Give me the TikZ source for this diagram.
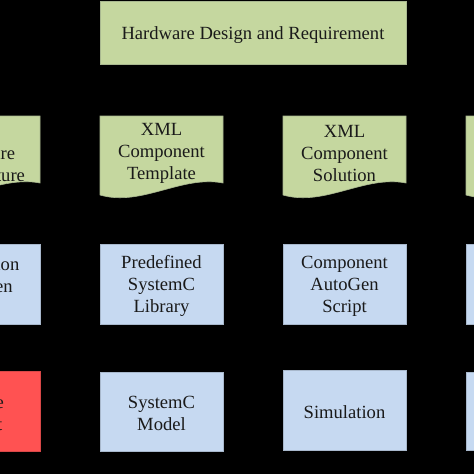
\documentclass[tikz,border=0pt]{standalone}
\usepackage{fontspec}
\setmainfont{Liberation Serif}
\definecolor{boxgreen}{HTML}{C5D79F}
\definecolor{edgegreen}{HTML}{A9B890}
\definecolor{boxblue}{HTML}{C6D9F1}
\definecolor{edgeblue}{HTML}{A8B8CC}
\definecolor{boxred}{HTML}{FF5252}
\definecolor{edgered}{HTML}{D84848}
\definecolor{ink}{HTML}{1A1A1A}
\begin{document}
\begin{tikzpicture}[x=1pt,y=-1pt,
  txt/.style={font=\fontsize{18.6}{22}\selectfont, text=ink, align=center, inner sep=0pt},
  boxbase/.style={line width=0.6pt, minimum width=123pt, minimum height=80pt, inner sep=0pt},
  greenbox/.style={boxbase, fill=boxgreen, draw=edgegreen},
  bluebox/.style={boxbase, fill=boxblue, draw=edgeblue},
  redbox/.style={boxbase, fill=boxred, draw=edgered},
  docpath/.style={fill=boxgreen, draw=edgegreen, line width=0.6pt},
  conn/.style={draw=black, line width=1pt, -latex}]
\useasboundingbox (0,0) rectangle (474,474);
\fill[black] (0,0) rectangle (474,474);
\clip (0,0) rectangle (474,474);
% top box
\node[greenbox, minimum width=306pt, minimum height=63pt] (hw) at (253,32.5) {};
\node[txt] (hwt) at (253,35) {Hardware Design and Requirement};
% document shapes, row 2
\foreach \c in {-21.5,161.5,344.5,527.5}{
  \path[docpath] (\c-61.5,116) -- (\c+61.5,116) -- (\c+61.5,183)
     .. controls (\c+20,175) and (\c-20,207) .. (\c-61.5,195) -- cycle;
}
\node[txt] (arch) at (-21.5,164) {Hardware\\Architecture};
\node[txt] (tmpl) at (161.5,153) {XML\\Component\\Template};
\node[txt] (sol) at (344.5,153) {XML\\Component\\Solution};
\coordinate (solb) at (344.5,192);
% row 3
\node[bluebox] (gen) at (-21.5,284) {};
\node[txt] at (-21.5,286) {Simulation\\AutoGen\\Tool};
\node[bluebox] (lib) at (161.5,284) {};
\node[txt] at (161.5,286) {Predefined\\SystemC\\Library};
\node[bluebox] (script) at (344.5,284) {};
\node[txt] at (344.5,286) {Component\\AutoGen\\Script};
\node[bluebox] (r3c4) at (527.5,284) {};
% row 4
\node[redbox] (res) at (-21.5,411.5) {};
\node[txt] at (-21.5,413.5) {Profile\\Result};
\node[bluebox, minimum height=79pt] (model) at (161.5,411.5) {};
\node[txt] at (161.5,413.5) {SystemC\\Model};
\node[bluebox] (sim) at (344.5,410) {};
\node[txt] at (344.5,412) {Simulation};
\node[bluebox, minimum height=78pt] (r4c4) at (527.5,411) {};
% connectors (black, as in the reference)
\draw[conn] (solb) -- (script.north);
\draw[conn, shorten <=2pt] (lib.south) -- (model.north);
\end{tikzpicture}
\end{document}
